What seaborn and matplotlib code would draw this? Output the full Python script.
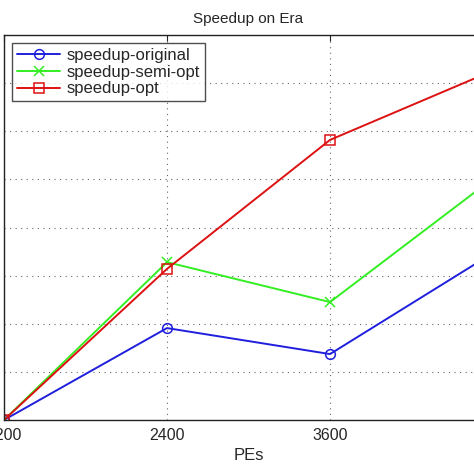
import numpy as np
import pandas as pd
import matplotlib
matplotlib.use("Agg")
import matplotlib.pyplot as plt
import seaborn as sns

# data (y labels are cropped out in the reference)
pes = [1200, 2400, 3600, 4800]
pe_labels = ["1200", "2400", "3600", ""]  # 4800 falls outside the crop
speedup_original = [1.000, 1.191, 1.137, 1.347]
speedup_semi_opt = [1.000, 1.328, 1.245, 1.502]
speedup_opt = [1.000, 1.314, 1.582, 1.726]

series = ["speedup-original", "speedup-semi-opt", "speedup-opt"]
colors = ["#1f1fdd", "#33ee22", "#dd1111"]
markers = ["o", "x", "s"]

df = pd.DataFrame({
    "PEs": pes * 3,
    "speedup": speedup_original + speedup_semi_opt + speedup_opt,
    "series": np.repeat(series, len(pes)),
})

sns.set_style("white")
plt.rcParams["font.family"] = ["Liberation Sans", "DejaVu Sans"]
plt.rcParams["xtick.direction"] = "in"
plt.rcParams["ytick.direction"] = "in"

fig = plt.figure(figsize=(4.74, 4.74), dpi=100)
W = H = 474.0
# the reference is a crop: the axes run off the left and right edges
ax = fig.add_axes([4 / W, (H - 420) / H, 489 / W, 385 / H])

for name, c, m in zip(series, colors, markers):
    sub = df[df["series"] == name]
    sns.lineplot(data=sub, x="PEs", y="speedup", ax=ax, color=c, marker=m,
                 markersize=7, markerfacecolor="none", markeredgecolor=c,
                 markeredgewidth=1.1, linewidth=1.4, label=name)

ax.set_xlim(1200, 4800)
ax.set_ylim(1.0, 1.8)
ax.set_xticks(pes)
ax.set_xticklabels(pe_labels, fontsize=11.5)
ax.set_yticks(np.arange(1.0, 1.81, 0.1))
ax.set_yticklabels([])  # cropped off in the reference
ax.tick_params(top=True, right=True, length=4, width=0.8, color="#222222", pad=6)
ax.grid(True, linestyle=(0, (1, 4)), color="#666666", linewidth=0.8)
for s in ax.spines.values():
    s.set_color("#222222")
    s.set_linewidth(1.0)

ax.set_xlabel("PEs", fontsize=12, labelpad=3)
ax.set_ylabel("")
ax.set_title("Speedup on Era", fontsize=11, pad=9)

leg = ax.legend(loc="upper left", bbox_to_anchor=(8 / 489, 1 - 8 / 385),
                borderaxespad=0, fontsize=12, frameon=True, fancybox=False,
                handlelength=2.6, handletextpad=0.4, labelspacing=0.1,
                borderpad=0.3)
leg.get_frame().set_edgecolor("#222222")
leg.get_frame().set_linewidth(1.0)

fig.savefig("out.png", dpi=100)
